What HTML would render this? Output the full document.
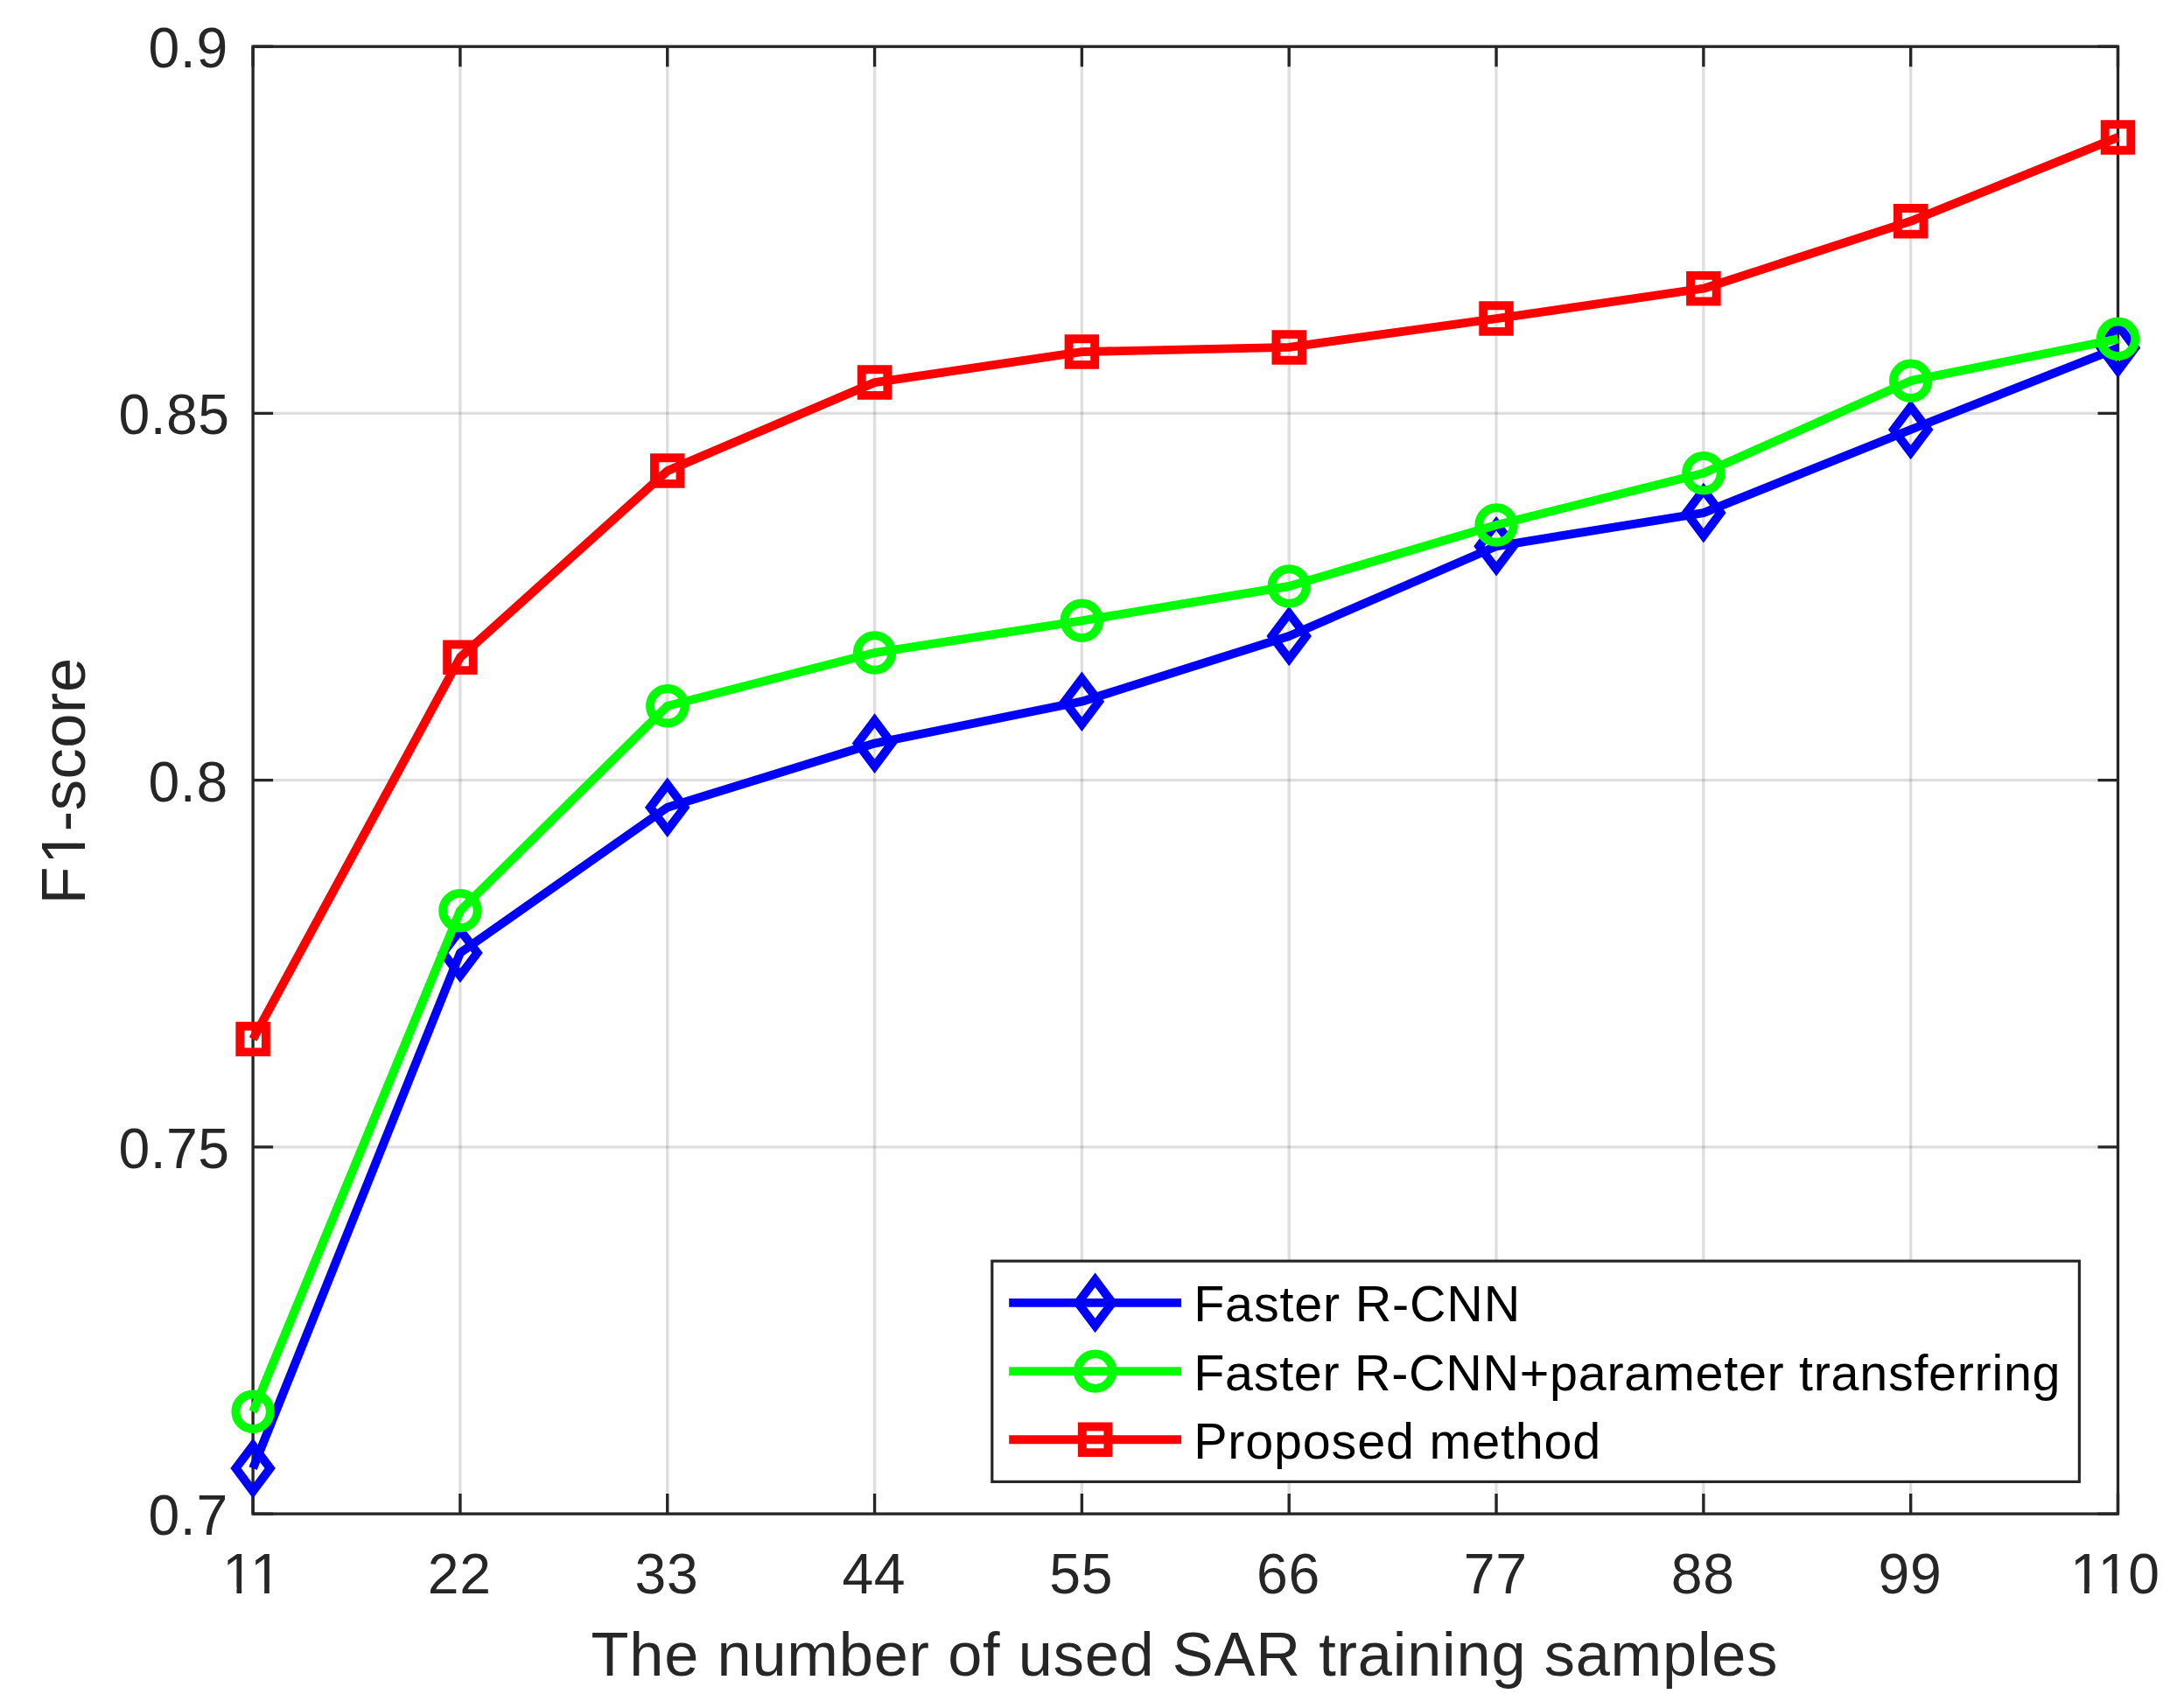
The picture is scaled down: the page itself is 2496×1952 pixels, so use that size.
<!DOCTYPE html>
<html lang="en"><head><meta charset="utf-8"><title>F1-score vs number of used SAR training samples</title>
<style>
html,body{margin:0;padding:0;background:#fff;}
body{width:2496px;height:1952px;overflow:hidden;}
svg{display:block;}
text{font-family:"Liberation Sans",Arial,Helvetica,sans-serif;}
.tick{font-size:64.3px;fill:#262626;letter-spacing:0.7px;}
.lab{font-size:70.4px;fill:#262626;letter-spacing:0.78px;}
.leg{font-size:57.5px;fill:#000;letter-spacing:0.8px;}
.ax{stroke:#262626;stroke-width:3.35;fill:none;}
.grid{stroke:#262626;stroke-opacity:0.15;stroke-width:3.4;fill:none;}
.ln{fill:none;stroke-width:9.9;stroke-linejoin:round;stroke-linecap:butt;}
.mk{fill:none;stroke-width:9.9;stroke-linejoin:miter;stroke-miterlimit:10;}
</style></head><body>
<svg width="2496" height="1952" viewBox="0 0 2496 1952">
<rect x="0" y="0" width="2496" height="1952" fill="#fff"/>
<path class="grid" d="M525.92 53.2V1730.1M762.74 53.2V1730.1M999.57 53.2V1730.1M1236.39 53.2V1730.1M1473.21 53.2V1730.1M1710.03 53.2V1730.1M1946.86 53.2V1730.1M2183.68 53.2V1730.1"/>
<path class="grid" d="M289.1 472.42H2420.5M289.1 891.65H2420.5M289.1 1310.88H2420.5"/>
<rect class="ax" x="289.1" y="53.2" width="2131.4" height="1676.9"/>
<path class="ax" d="M289.1 1730.1v-23M289.1 53.2v23M525.92 1730.1v-23M525.92 53.2v23M762.74 1730.1v-23M762.74 53.2v23M999.57 1730.1v-23M999.57 53.2v23M1236.39 1730.1v-23M1236.39 53.2v23M1473.21 1730.1v-23M1473.21 53.2v23M1710.03 1730.1v-23M1710.03 53.2v23M1946.86 1730.1v-23M1946.86 53.2v23M2183.68 1730.1v-23M2183.68 53.2v23M2420.5 1730.1v-23M2420.5 53.2v23M289.1 53.2h23M2420.5 53.2h-23M289.1 472.42h23M2420.5 472.42h-23M289.1 891.65h23M2420.5 891.65h-23M289.1 1310.88h23M2420.5 1310.88h-23M289.1 1730.1h23M2420.5 1730.1h-23"/>
<text class="tick" x="288.4" y="1820.6" text-anchor="middle">11</text>
<text class="tick" x="525.22" y="1820.6" text-anchor="middle">22</text>
<text class="tick" x="762.04" y="1820.6" text-anchor="middle">33</text>
<text class="tick" x="998.87" y="1820.6" text-anchor="middle">44</text>
<text class="tick" x="1235.69" y="1820.6" text-anchor="middle">55</text>
<text class="tick" x="1472.51" y="1820.6" text-anchor="middle">66</text>
<text class="tick" x="1709.33" y="1820.6" text-anchor="middle">77</text>
<text class="tick" x="1946.16" y="1820.6" text-anchor="middle">88</text>
<text class="tick" x="2182.98" y="1820.6" text-anchor="middle">99</text>
<text class="tick" x="2417.3" y="1820.6" text-anchor="middle">11<tspan dx="-1.8">0</tspan></text>
<text class="tick" x="260.9" y="77.2" text-anchor="end">0.9</text>
<text class="tick" x="262.3" y="496.42" text-anchor="end" style="letter-spacing:0.4px">0.85</text>
<text class="tick" x="260.9" y="915.65" text-anchor="end">0.8</text>
<text class="tick" x="262.3" y="1334.88" text-anchor="end" style="letter-spacing:0.4px">0.75</text>
<text class="tick" x="260.9" y="1754.1" text-anchor="end">0.7</text>
<text class="lab" x="1353.9" y="1914.9" text-anchor="middle">The number of used SAR training samples</text>
<text class="lab" transform="translate(96.9 892.35) rotate(-90)" text-anchor="middle" style="letter-spacing:0.58px">F<tspan dx="2.2">1</tspan><tspan dx="-2.2">-score</tspan></text>
<path fill="#fff" d="M257.72 1814.6H270.49V1821.8H257.72ZM276.17 1814.6H288.44V1821.8H276.17Z"/>
<path fill="#fff" d="M289.39 1814.6H302.16V1821.8H289.39ZM307.85 1814.6H320.11V1821.8H307.85Z"/>
<path fill="#fff" d="M2369.29 1814.6H2382.06V1821.8H2369.29ZM2387.74 1814.6H2400.01V1821.8H2387.74Z"/>
<path fill="#fff" d="M2400.96 1814.6H2413.73V1821.8H2400.96ZM2419.41 1814.6H2431.68V1821.8H2419.41Z"/>
<path fill="#fff" transform="translate(96.9 892.35) rotate(-90)" d="M-91.55 -6.46H-77.71V1.2H-91.55ZM-71.48 -6.46H-58.19V1.2H-71.48Z"/>
<polyline class="ln" stroke="#0000ff" points="289.1,1678.1 525.92,1089 762.74,922.7 999.57,849.6 1236.39,801.7 1473.21,727 1710.03,624.3 1946.86,586.1 2183.68,491 2420.5,397.6"/>
<path class="mk" stroke="#0000ff" d="M289.1 1652.05L308.7 1678.1L289.1 1704.15L269.5 1678.1ZM525.92 1062.95L545.52 1089L525.92 1115.05L506.32 1089ZM762.74 896.65L782.34 922.7L762.74 948.75L743.14 922.7ZM999.57 823.55L1019.17 849.6L999.57 875.65L979.97 849.6ZM1236.39 775.65L1255.99 801.7L1236.39 827.75L1216.79 801.7ZM1473.21 700.95L1492.81 727L1473.21 753.05L1453.61 727ZM1710.03 598.25L1729.63 624.3L1710.03 650.35L1690.43 624.3ZM1946.86 560.05L1966.46 586.1L1946.86 612.15L1927.26 586.1ZM2183.68 464.95L2203.28 491L2183.68 517.05L2164.08 491ZM2420.5 371.55L2440.1 397.6L2420.5 423.65L2400.9 397.6Z"/>
<polyline class="ln" stroke="#00ff00" points="289.1,1613.3 525.92,1040.7 762.74,806.8 999.57,746 1236.39,709.3 1473.21,670 1710.03,600 1946.86,540.8 2183.68,435.2 2420.5,387.3"/>
<circle class="mk" stroke="#00ff00" cx="289.1" cy="1613.3" r="19.75"/>
<circle class="mk" stroke="#00ff00" cx="525.92" cy="1040.7" r="19.75"/>
<circle class="mk" stroke="#00ff00" cx="762.74" cy="806.8" r="19.75"/>
<circle class="mk" stroke="#00ff00" cx="999.57" cy="746" r="19.75"/>
<circle class="mk" stroke="#00ff00" cx="1236.39" cy="709.3" r="19.75"/>
<circle class="mk" stroke="#00ff00" cx="1473.21" cy="670" r="19.75"/>
<circle class="mk" stroke="#00ff00" cx="1710.03" cy="600" r="19.75"/>
<circle class="mk" stroke="#00ff00" cx="1946.86" cy="540.8" r="19.75"/>
<circle class="mk" stroke="#00ff00" cx="2183.68" cy="435.2" r="19.75"/>
<circle class="mk" stroke="#00ff00" cx="2420.5" cy="387.3" r="19.75"/>
<polyline class="ln" stroke="#ff0000" points="289.1,1187.6 525.92,751.3 762.74,538.1 999.57,437.1 1236.39,402.1 1473.21,396.9 1710.03,364.1 1946.86,329.7 2183.68,252.8 2420.5,156.9"/>
<path class="mk" stroke="#ff0000" d="M274.3 1172.8H303.9V1202.4H274.3ZM511.12 736.5H540.72V766.1H511.12ZM747.94 523.3H777.54V552.9H747.94ZM984.77 422.3H1014.37V451.9H984.77ZM1221.59 387.3H1251.19V416.9H1221.59ZM1458.41 382.1H1488.01V411.7H1458.41ZM1695.23 349.3H1724.83V378.9H1695.23ZM1932.06 314.9H1961.66V344.5H1932.06ZM2168.88 238H2198.48V267.6H2168.88ZM2405.7 142.1H2435.3V171.7H2405.7Z"/>
<rect x="1133.8" y="1441.2" width="1242.55" height="252.2" fill="#fff" stroke="#262626" stroke-width="3.2"/>
<path class="ln" stroke="#0000ff" d="M1153.2 1488.9H1350.1"/>
<path class="mk" stroke="#0000ff" d="M1251.6 1462.85L1271.2 1488.9L1251.6 1514.95L1232 1488.9Z"/>
<text class="leg" x="1364.2" y="1510.4">Faster R-CNN</text>
<path class="ln" stroke="#00ff00" d="M1153.2 1567.1H1350.1"/>
<circle class="mk" stroke="#00ff00" cx="1251.6" cy="1567.1" r="19.75"/>
<text class="leg" x="1364.2" y="1588.6" style="letter-spacing:0.7px">Faster R-CNN+parameter transferring</text>
<path class="ln" stroke="#ff0000" d="M1153.2 1645.3H1350.1"/>
<path class="mk" stroke="#ff0000" d="M1236.8 1630.5H1266.4V1660.1H1236.8Z"/>
<text class="leg" x="1364.2" y="1666.8">Proposed method</text>
</svg>
</body></html>
